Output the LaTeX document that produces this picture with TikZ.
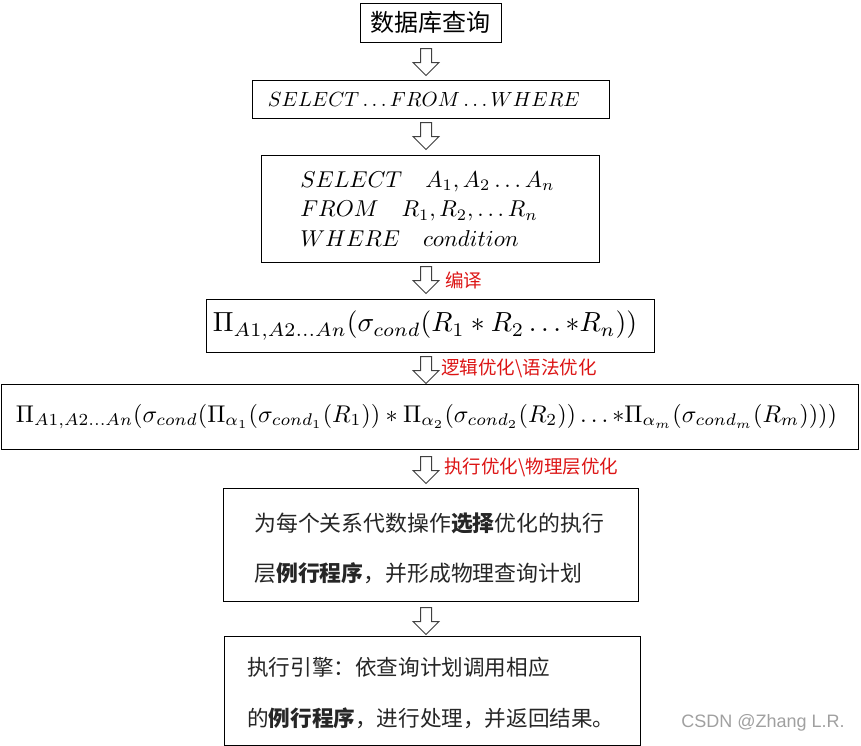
\documentclass[tikz,border=0pt]{standalone}
\usepackage{fontspec}
\usepackage{graphicx}
\newfontfamily\cjk{Noto Sans CJK SC}
\newfontfamily\wmfont{Liberation Sans}
\usetikzlibrary{calc}
\definecolor{labelred}{RGB}{220,20,20}
\definecolor{wmgray}{RGB}{160,160,160}
\begin{document}
\begin{tikzpicture}[x=0.75pt,y=-0.75pt,
  box/.style={draw=black, line width=0.75pt, fill=white, inner sep=0pt},
  cjktext/.style={inner sep=0pt, align=left, text=black!85},
  redlabel/.style={inner sep=0pt, anchor=west, text=labelred, font=\cjk\fontsize{13.9pt}{16pt}\selectfont},
  blockarrow/.pic={\draw[line width=0.75pt, draw=black!75, fill=white]
      (-5.5,0) -- (-5.5,14) -- (-13,14) -- (0,27) -- (13,14) -- (5.5,14) -- (5.5,0) -- cycle;}
]
\useasboundingbox (0,0) rectangle (861,746);

% boxes
\node[box, minimum width={141*0.75pt}, minimum height={39*0.75pt}] (b1) at (430.5,22.5) {};
\node[box, minimum width={357*0.75pt}, minimum height={38*0.75pt}] (b2) at (430.5,99) {};
\node[box, minimum width={338*0.75pt}, minimum height={107*0.75pt}] (b3) at (430,208.5) {};
\node[box, minimum width={448*0.75pt}, minimum height={53*0.75pt}] (b4) at (430,325.5) {};
\node[box, minimum width={857*0.75pt}, minimum height={65*0.75pt}] (b5) at (429.5,416.5) {};
\node[box, minimum width={415*0.75pt}, minimum height={113*0.75pt}] (b6) at (430.5,544.5) {};
\node[box, minimum width={416*0.75pt}, minimum height={109*0.75pt}] (b7) at (432,690.5) {};

% texts
\node[inner sep=0pt, font=\cjk\fontsize{18pt}{20pt}\selectfont] (t1) at (b1.center) {数据库查询};
\node[inner sep=0pt] (t2) at (424,99) {\resizebox{234pt}{!}{$SELECT\ldots FROM\ldots WHERE$}};
\node[inner sep=0pt, anchor=west] (t3) at (300,211) {\scalebox{1.72}{\renewcommand\arraystretch{1.07}\begin{tabular}{@{}l@{}}
  $SELECT\quad A_1,A_2\ldots A_n$\\
  $FROM\quad R_1,R_2,\ldots R_n$\\
  $WHERE\quad condition$
\end{tabular}}};
\node[inner sep=0pt] (t4) at (425,325.5) {\resizebox{318pt}{!}{$\Pi_{A1,A2\ldots An}(\sigma_{cond}(R_1*R_2\ldots{*}R_n))$}};
\node[inner sep=0pt] (t5) at (426.5,416.5) {\resizebox{615.75pt}{!}{$\Pi_{A1,A2\ldots An}(\sigma_{cond}(\Pi_{\alpha_1}(\sigma_{cond_1}(R_1))*\Pi_{\alpha_2}(\sigma_{cond_2}(R_2))\ldots{*}\Pi_{\alpha_m}(\sigma_{cond_m}(R_m))))$}};
\node[cjktext, anchor=west, font=\cjk\fontsize{16.4pt}{37.5pt}\selectfont] (t6) at (254,548) {为每个关系代数操作{\bfseries 选择}优化的执行\\层{\bfseries 例行程序}，并形成物理查询计划};
\node[cjktext, anchor=west, font=\cjk\fontsize{16.2pt}{38.25pt}\selectfont] (t7) at (247,692.5) {执行引擎：依查询计划调用相应\\的{\bfseries 例行程序}，进行处理，并返回结果。};

% arrows (connectors between boxes)
\coordinate (a1) at ($(b1.south)+(-4.5,6)$);
\coordinate (a2) at ($(b2.south)+(-4.5,4)$);
\coordinate (a3) at ($(b3.south)+(-4,4)$);
\coordinate (a4) at ($(b4.south)+(-4,4)$);
\coordinate (a5) at ($(b5.south)+(-3.5,7)$);
\coordinate (a6) at ($(b6.south)+(-4.5,6)$);
\foreach \a in {a1,a2,a3,a4,a5,a6} { \pic at (\a) {blockarrow}; }

% labels
\node[redlabel] (l3) at (445,280) {编译};
\node[redlabel] (l4) at (441,368) {逻辑优化\textbackslash 语法优化};
\node[redlabel] (l5) at (444,467) {执行优化\textbackslash 物理层优化};

% watermark
\node[inner sep=0pt, text=wmgray, font=\wmfont\fontsize{13.5pt}{15pt}\selectfont] (wm) at (763,723) {CSDN @Zhang L.R.};
\end{tikzpicture}
\end{document}
